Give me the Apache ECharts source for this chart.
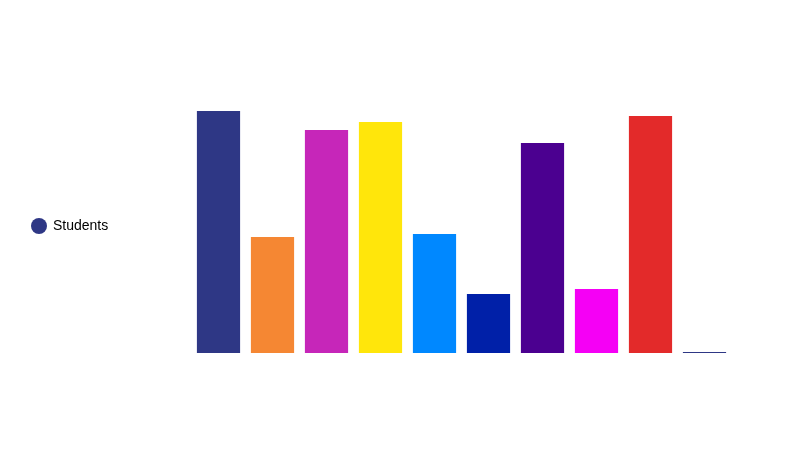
<!DOCTYPE html>
<html>
<head>
<meta charset="utf-8">
<script src="https://cdn.jsdelivr.net/npm/echarts@6/dist/echarts.min.js"></script>
<style>
  html, body { margin: 0; padding: 0; background: #fff; }
  #chart { width: 800px; height: 450px; }
</style>
</head>
<body>
<div id="chart"></div>
<script>
// data (bar heights, no axis shown)
var categories = ['A', 'B', 'C', 'D', 'E', 'F', 'G', 'H', 'I', 'J']
var students = [242, 116, 223, 231, 119, 59, 210, 64, 237, 1]
var palette = ['#2e3785', '#f58733', '#c626b9', '#ffe60b', '#0088ff',
               '#0020a8', '#4b0090', '#f500f5', '#e32a2a']

var chart = echarts.init(document.getElementById('chart'))
chart.setOption({
    animation: false,
    color: palette,
    legend: {
        orient: 'vertical',
        left: 26,
        top: 213,
        icon: 'circle',
        itemWidth: 16,
        itemHeight: 16,
        textStyle: {
            fontSize: 14,
            color: '#000',
            fontFamily: 'Liberation Sans, Arial, sans-serif',
            padding: [0, 0, 0, 1]
        },
        data: ['Students']
    },
    grid: {
        left: 191.5,
        right: 68.5,
        top: 111,
        bottom: 97,
        containLabel: false
    },
    xAxis: {
        type: 'category',
        data: categories,
        show: false
    },
    yAxis: {
        type: 'value',
        min: 0,
        max: 242,
        show: false
    },
    series: [{
        name: 'Students',
        type: 'bar',
        colorBy: 'data',
        barCategoryGap: '20%',
        data: students
    }]
})
</script>
</body>
</html>
